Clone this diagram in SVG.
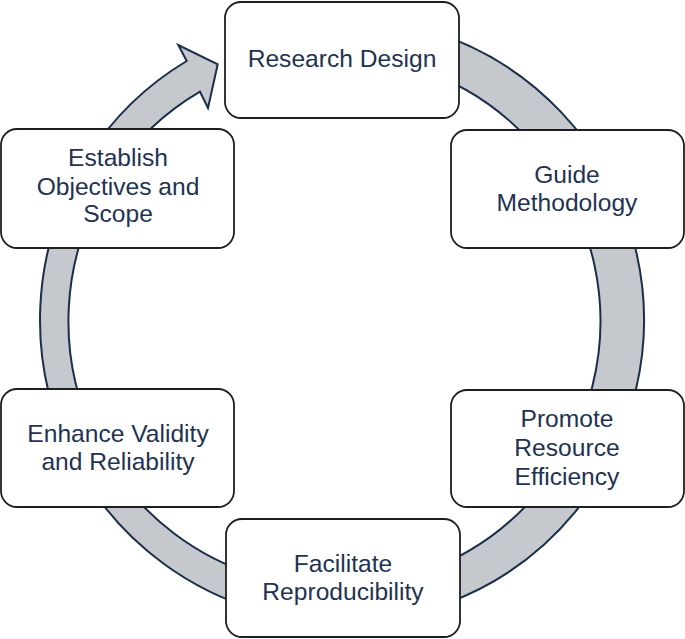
<svg xmlns="http://www.w3.org/2000/svg" width="685" height="639" viewBox="0 0 685 639">
<style>
.box{fill:#ffffff;stroke:#1e1e1e;stroke-width:1.8}
.lbl{font-family:"Liberation Sans",Arial,sans-serif;font-size:24.6px;fill:#1f3252;text-anchor:middle}
.ring{fill:#c5c8cc;stroke:#1a2e4c;stroke-width:2;stroke-linejoin:miter}
</style>
<rect width="685" height="639" fill="#ffffff"/>
<g id="connectors">
<path class="ring" d="M289.56,22.59 A302,302 0 1 1 186.7,61 L178.3,45 L217.7,64.3 L208,108 L200,91.7 A266,266 0 1 0 295.81,58.04 Z"/>
</g>
<g id="node-research-design">
<rect class="box" x="225" y="2" width="234" height="116" rx="16"/>
<text class="lbl" x="342" y="67">Research Design</text>
</g>
<g id="node-guide-methodology">
<rect class="box" x="451" y="130" width="233" height="118" rx="16"/>
<text class="lbl" x="567" y="183">Guide</text>
<text class="lbl" x="567" y="211">Methodology</text>
</g>
<g id="node-promote-resource-efficiency">
<rect class="box" x="451" y="390" width="233" height="117" rx="16"/>
<text class="lbl" x="567" y="427">Promote</text>
<text class="lbl" x="567" y="456">Resource</text>
<text class="lbl" x="567" y="485">Efficiency</text>
</g>
<g id="node-facilitate-reproducibility">
<rect class="box" x="226" y="519" width="234" height="118" rx="16"/>
<text class="lbl" x="343" y="572">Facilitate</text>
<text class="lbl" x="343" y="600">Reproducibility</text>
</g>
<g id="node-enhance-validity">
<rect class="box" x="1" y="389" width="233" height="118" rx="16"/>
<text class="lbl" x="118" y="442">Enhance Validity</text>
<text class="lbl" x="118" y="470">and Reliability</text>
</g>
<g id="node-establish-objectives">
<rect class="box" x="1" y="129" width="233" height="119" rx="16"/>
<text class="lbl" x="118" y="166">Establish</text>
<text class="lbl" x="118" y="195">Objectives and</text>
<text class="lbl" x="118" y="222">Scope</text>
</g>
</svg>
